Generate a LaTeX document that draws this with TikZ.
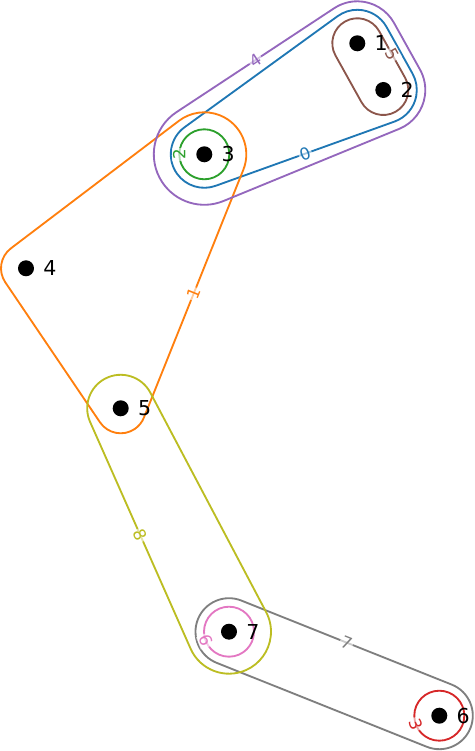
\documentclass[tikz,border=0pt]{standalone}
\usepackage{fontspec}
\setmainfont{DejaVu Sans}
\usetikzlibrary{calc}
\definecolor{c0}{HTML}{1F77B4}
\definecolor{c1}{HTML}{FF7F0E}
\definecolor{c2}{HTML}{2CA02C}
\definecolor{c3}{HTML}{D62728}
\definecolor{c4}{HTML}{9467BD}
\definecolor{c5}{HTML}{8C564B}
\definecolor{c6}{HTML}{E377C2}
\definecolor{c7}{HTML}{7F7F7F}
\definecolor{c8}{HTML}{BCBD22}
\newcommand\setnode[3]{\expandafter\def\csname nx#1\endcsname{#2}\expandafter\def\csname ny#1\endcsname{#3}}
\newcommand\NX[1]{\csname nx#1\endcsname}
\newcommand\NY[1]{\csname ny#1\endcsname}
% outward normal angle of the tangent on the right of A->B
\newcommand\nrm[7]{\pgfmathsetmacro#1{atan2((#6)-(#3),(#5)-(#2))-acos(((#4)-(#7))/veclen((#5)-(#2),(#6)-(#3)))}}
\newcommand\fixend[3]{\pgfmathsetmacro#1{#2+mod(#3-(#2)+720,360)}}
\newcommand\hulltwo[6]{%
 \nrm\aAB{\NX{#2}}{\NY{#2}}{#3}{\NX{#4}}{\NY{#4}}{#5}%
 \nrm\aBA{\NX{#4}}{\NY{#4}}{#5}{\NX{#2}}{\NY{#2}}{#3}%
 \fixend\eA{\aBA}{\aAB}%
 \fixend\eB{\aAB}{\aBA}%
 \draw[#1] ($(\NX{#2},\NY{#2})+(\aBA:#3)$) arc[start angle=\aBA, end angle=\eA, radius=#3]
   -- node[elab,sloped]{#6} ($(\NX{#4},\NY{#4})+(\aAB:#5)$) arc[start angle=\aAB, end angle=\eB, radius=#5] -- cycle;
}
\newcommand\hullthree[8]{%
 \nrm\aAB{\NX{#2}}{\NY{#2}}{#3}{\NX{#4}}{\NY{#4}}{#5}%
 \nrm\aBC{\NX{#4}}{\NY{#4}}{#5}{\NX{#6}}{\NY{#6}}{#7}%
 \nrm\aCA{\NX{#6}}{\NY{#6}}{#7}{\NX{#2}}{\NY{#2}}{#3}%
 \fixend\eA{\aCA}{\aAB}%
 \fixend\eB{\aAB}{\aBC}%
 \fixend\eC{\aBC}{\aCA}%
 \draw[#1] ($(\NX{#2},\NY{#2})+(\aCA:#3)$) arc[start angle=\aCA, end angle=\eA, radius=#3]
   -- node[elab,sloped]{#8} ($(\NX{#4},\NY{#4})+(\aAB:#5)$) arc[start angle=\aAB, end angle=\eB, radius=#5]
   -- ($(\NX{#6},\NY{#6})+(\aBC:#7)$) arc[start angle=\aBC, end angle=\eC, radius=#7] -- cycle;
}
\setnode{1}{357.3}{707.7}
\setnode{2}{383.3}{661}
\setnode{3}{204.3}{596.7}
\setnode{4}{26}{482.7}
\setnode{5}{120.7}{342.7}
\setnode{6}{439.3}{35.3}
\setnode{7}{229}{119.3}
\tikzset{
  hedge/.style={line width=1.05pt},
  e0/.style={hedge,color=c0}, e1/.style={hedge,color=c1}, e2/.style={hedge,color=c2},
  e3/.style={hedge,color=c3}, e4/.style={hedge,color=c4}, e5/.style={hedge,color=c5},
  e6/.style={hedge,color=c6}, e7/.style={hedge,color=c7}, e8/.style={hedge,color=c8},
  elab/.style={font=\fontsize{9.5}{11}\selectfont, fill=white, fill opacity=0.6, text opacity=1, inner sep=0.8pt},
  dot/.style={circle, fill=black, draw=none, inner sep=0pt, minimum size=0.32cm},
  nlab/.style={font=\fontsize{11.7}{14}\selectfont, anchor=west, inner sep=0pt}
}
\begin{document}
\begin{tikzpicture}[x=0.02cm,y=0.02cm]
\useasboundingbox (0,0) rectangle (474,751);
% hyperedges
\hullthree{e0}{3}{33.5}{2}{33.5}{1}{33.5}{0}
\hullthree{e1}{5}{25}{3}{42}{4}{25}{1}
\draw[e2] (\NX{3},\NY{3}) circle[radius=25];
\draw[e3] (\NX{6},\NY{6}) circle[radius=25];
\hullthree{e4}{1}{42}{3}{50.5}{2}{42}{4}
\hulltwo{e5}{2}{25}{1}{25}{5}
\draw[e6] (\NX{7},\NY{7}) circle[radius=25];
\hulltwo{e7}{6}{33.5}{7}{33.5}{7}
\hulltwo{e8}{5}{33.5}{7}{42}{8}
% nodes
\foreach \i in {1,...,7}{
  \node[dot] (n\i) at (\NX{\i},\NY{\i}) {};
  \node[nlab] (l\i) at ($(n\i.center)+(17,0)$) {\i};
}
% labels of single-node edges
\node[elab, text=c2, rotate=90] (el2) at ($(n3.center)+(180:25)$) {2};
\node[elab, text=c3, rotate=-70] (el3) at ($(n6.center)+(200:25)$) {3};
\node[elab, text=c6, rotate=-69] (el6) at ($(n7.center)+(201:25)$) {6};
\end{tikzpicture}
\end{document}
